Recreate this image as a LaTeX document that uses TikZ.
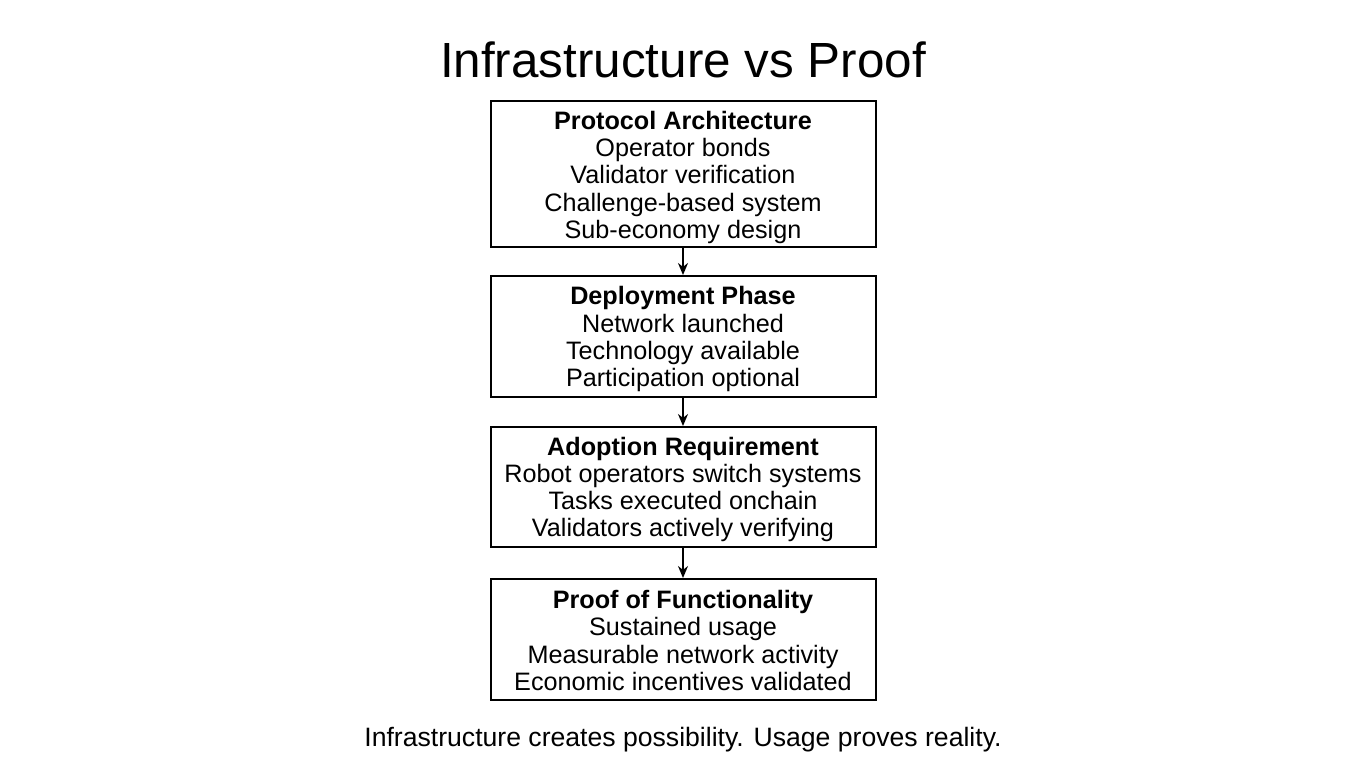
\documentclass[tikz,border=0pt]{standalone}
\usepackage{fontspec}
\setmainfont{Liberation Sans}
\usetikzlibrary{arrows.meta}
\begin{document}
\begin{tikzpicture}[x=0.5pt,y=-0.5pt,
  stage/.style={draw=black,line width=1pt,minimum width=192.5pt,inner sep=0pt},
  stagetext/.style={align=center,font=\fontsize{12.6}{13.6}\selectfont,inner sep=0pt},
  flow/.style={-{Stealth[length=6pt,width=5pt]},line width=0.8pt}]
\useasboundingbox (0,0) rectangle (1367,768);
\node[font=\fontsize{24.7}{28}\selectfont] (title) at (683,60) {Infrastructure vs Proof};
\node[stage,minimum height=73pt] (b1) at (683,174) {};
\node[stagetext] (t1) at ([yshift=-1.7pt]b1.center) {\textbf{Protocol Architecture}\\Operator bonds\\Validator verification\\Challenge-based system\\Sub-economy design};
\node[stage,minimum height=60.5pt] (b2) at (683,336.5) {};
\node[stagetext] (t2) at ([yshift=-1.3pt]b2.center) {\textbf{Deployment Phase}\\Network launched\\Technology available\\Participation optional};
\node[stage,minimum height=60pt] (b3) at (683,487) {};
\node[stagetext] (t3) at ([yshift=-1.3pt]b3.center) {\textbf{Adoption Requirement}\\Robot operators switch systems\\Tasks executed onchain\\Validators actively verifying};
\node[stage,minimum height=60.5pt] (b4) at (683,639.5) {};
\node[stagetext] (t4) at ([yshift=-0.5pt]b4.center) {\textbf{Proof of Functionality}\\Sustained usage\\Measurable network activity\\Economic incentives validated};
\draw[flow] (b1.south) -- (b2.north);
\draw[flow] (b2.south) -- (b3.north);
\draw[flow] (b3.south) -- (b4.north);
\node[font=\fontsize{13.3}{15}\selectfont] (caption) at (683,740) {Infrastructure creates possibility. Usage proves reality.};
\end{tikzpicture}
\end{document}
